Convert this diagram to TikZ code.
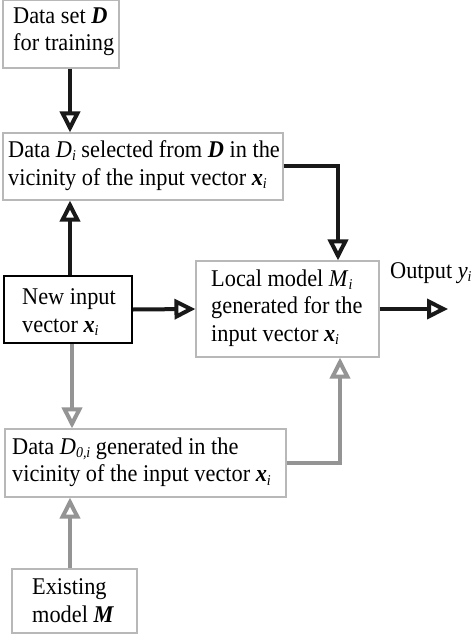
\documentclass[tikz,border=0pt]{standalone}
\usepackage{fontspec}
\setmainfont{Liberation Serif}[FakeStretch=0.93]
\usetikzlibrary{arrows.meta,calc}
\newcommand{\subsc}[1]{\raisebox{-0.3ex}{\fontsize{15}{15}\selectfont\itshape #1}}
\newcommand{\bi}[1]{\textbf{\textit{#1}}}
\begin{document}
\begin{tikzpicture}[x=1pt,y=1pt,
  box/.style={draw=black!28, line width=1.1pt, minimum width=#1, inner sep=0pt},
  txt/.style={font=\fontsize{24}{27.5}\selectfont, inner sep=0pt, align=left, anchor=west},
  blk/.style={line width=4pt, black!90, -{Triangle[open, length=21pt, width=20pt]}},
  gry/.style={line width=4pt, black!42, -{Triangle[open, length=21pt, width=20pt]}}]
\useasboundingbox (0,0) rectangle (474,-636);
\fill[white] (0,0) rectangle (474,-636);
% boxes
\node[box=116pt, minimum height=68pt] (b1) at (61,-34) {};
\node[box=280pt, minimum height=67pt] (b2) at (143,-166.5) {};
\node[box=183pt, minimum height=96pt] (lm) at (287.5,-309) {};
\node[draw=black, line width=2.2pt, minimum width=128pt, minimum height=67pt, inner sep=0pt] (ni) at (68,-309.5) {};
\node[box=281pt, minimum height=68pt] (d0) at (145.5,-463) {};
\node[box=125pt, minimum height=64pt] (em) at (74.5,-601) {};
% texts
\node[txt] (t1) at (13,-31.5) {Data set \bi{D}\\for training};
\node[txt] (t2) at (8,-165.5) {Data \textit{D}\subsc{i} selected from \bi{D} in the\\vicinity of the input vector \bi{x}\subsc{i}};
\node[txt] (tlm) at (211,-308) {Local model \textit{M}\subsc{i}\\generated for the\\input vector \bi{x}\subsc{i}};
\node[txt] (tni) at (22,-312) {New input\\vector \bi{x}\subsc{i}};
\node[txt] (td0) at (12,-462.5) {Data \textit{D}\subsc{0,i} generated in the\\vicinity of the input vector \bi{x}\subsc{i}};
\node[txt] (tem) at (32,-600.5) {Existing\\model \bi{M}};
\node[txt] (tout) at (390,-273) {Output \textit{y}\subsc{i}};
% helper coordinates
\coordinate (c) at (70,0);
\coordinate (c2) at (72,0);
\coordinate (out) at (448,-309);
% connectors
\draw[blk] (b1.south -| c) -- (b2.north -| c);
\draw[blk] (ni.north -| c) -- (b2.south -| c);
\draw[blk] (ni.east) -- (lm.west);
\draw[blk] (b2.east) -| ($(lm.north)+(50.5,0)$);
\draw[blk] (lm.east) -- (out);
\draw[gry] (ni.south -| c2) -- (d0.north -| c2);
\draw[gry] (d0.east) -| ($(lm.south)+(52.5,0)$);
\draw[gry] (em.north -| c) -- (d0.south -| c);
\end{tikzpicture}
\end{document}
